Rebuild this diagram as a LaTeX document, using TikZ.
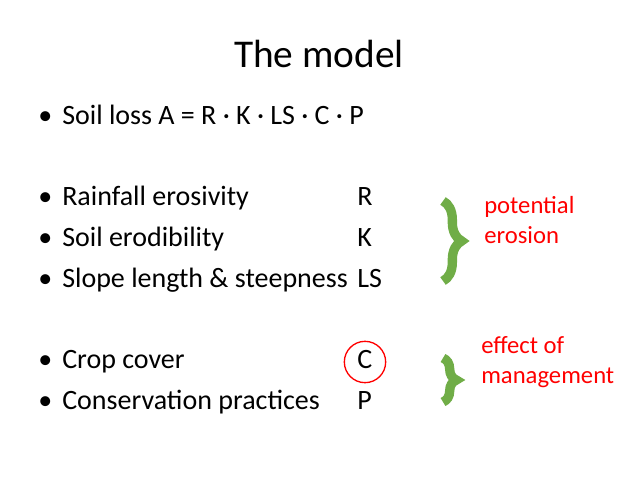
\documentclass[tikz,border=0pt]{standalone}
\usepackage{fontspec}
\setmainfont{Carlito}
\usetikzlibrary{decorations.pathreplacing}
\definecolor{brgreen}{RGB}{112,173,71}
\begin{document}
\begin{tikzpicture}[x=0.75pt,y=-0.75pt,
  body/.style={anchor=mid west,inner sep=0,font=\fontsize{21pt}{24pt}\selectfont},
  red/.style={body,text=red,align=left,font=\fontsize{18.5pt}{22pt}\selectfont},
  brc/.style={draw=brgreen,line width=7pt,decorate,decoration={brace,amplitude=14pt}}]
\useasboundingbox (0,0) rectangle (638,478);
\node[anchor=center,inner sep=0,font=\fontsize{29.5pt}{32pt}\selectfont] (title) at (319,54) {The model};
\foreach \y/\t [count=\i] in {121/Soil loss A = R · K · LS · C · P,202/Rainfall erosivity,243/Soil erodibility,284/Slope length \& steepness,365/Crop cover,406/Conservation practices}{
  \node[body] (b\i) at (38,\y) {•};
  \node[body] (t\i) at (62,\y) {\t};
}
\node[body] (r) at (357,202) {R};
\node[body] (k) at (357,243) {K};
\node[body] (ls) at (357,284) {LS};
\node[body] (c) at (357,365) {C};
\node[draw=red,line width=1pt,circle,minimum size=31pt] (circ) at (365,362) {};
\node[body] (p) at (357,406) {P};
\draw[brc] (443,201) -- (443,281);
\draw[brc,decoration={amplitude=10pt}] (443,358) -- (443,402);
\node[red] (pe) at (484,240) {potential\\erosion};
\node[red] (em) at (481,380) {effect of\\management};
\end{tikzpicture}
\end{document}
